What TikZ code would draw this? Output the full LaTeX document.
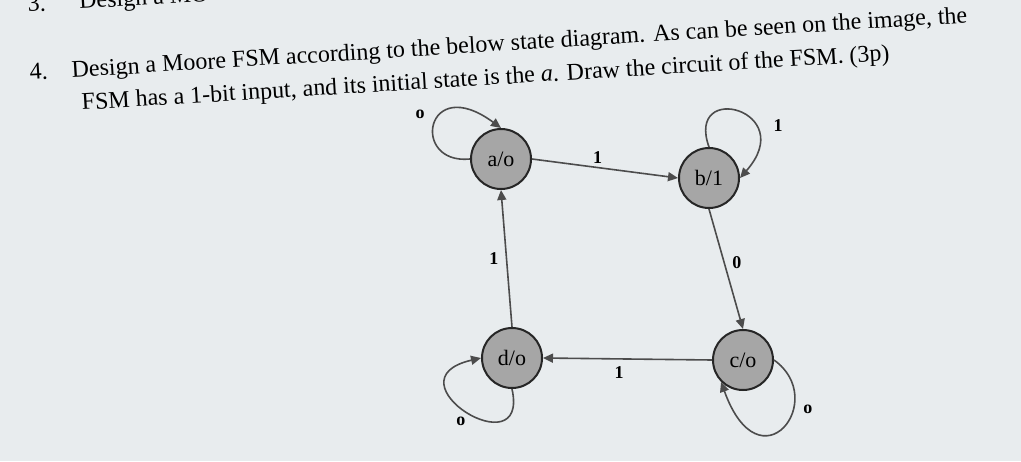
\documentclass[tikz,border=0pt]{standalone}
\usepackage{fontspec}
\setmainfont{Liberation Serif}
\usetikzlibrary{arrows.meta}
\begin{document}
\begin{tikzpicture}[x=1pt,y=-1pt,
  st/.style={circle,draw=black!85,line width=2pt,fill=black!35,minimum size=60pt,inner sep=0pt,font=\fontsize{22}{22}\selectfont},
  tr/.style={draw=black!70,line width=1.6pt,-{Triangle[length=10pt,width=9pt]}},
  lb/.style={font=\fontsize{18}{18}\selectfont\bfseries},
  txt/.style={font=\fontsize{24}{24}\selectfont,anchor=base west,rotate=3.5,inner sep=0pt}]
\fill[color={rgb,255:red,232;green,236;blue,238}] (0,0) rectangle (1021,461);
\useasboundingbox (0,0) rectangle (1021,461);
\node[txt] (t0) at (28,12) {3.\hspace{1.4em}Design a MOD};
\node[txt] (t1) at (30,80) {4.\hspace{1em}Design a Moore FSM according to the below state diagram. As can be seen on the image, the};
\node[txt] (t2) at (82,110) {FSM has a 1-bit input, and its initial state is the \textit{a}. Draw the circuit of the FSM. (3p)};
\node[st] (a) at (501,159) {a/o};
\node[st] (b) at (709,178) {b/1};
\node[st] (c) at (743,360) {c/o};
\node[st] (d) at (512,358) {d/o};
\draw[tr] (a.east) -- node[lb,above,pos=0.45] {1} (b.west);
\draw[tr] (b.south) -- node[lb,right,pos=0.45,xshift=4pt] {0} (c.north);
\draw[tr] (d.north) -- node[lb,left,xshift=-4pt] {1} (a.south);
\draw[tr] (c.west) -- node[lb,below,pos=0.55,yshift=-4pt] {1} (d.east);
\draw[tr] (a.west) .. controls (410,165) and (425,72) .. (a.north);
\node[lb] (la) at (420,114) {o};
\draw[tr] (b.north) .. controls (685,80) and (800,110) .. (b.east);
\node[lb] (lb1) at (778,126) {1};
\draw[tr] (d.south) .. controls (530,470) and (385,380) .. node[lb,pos=0.55,below,yshift=-6pt] {o} (d.west);
\draw[tr] (c.east) .. controls (830,400) and (760,490) .. node[lb,pos=0.35,right,xshift=6pt] {o} (c.south west);
\end{tikzpicture}
\end{document}
